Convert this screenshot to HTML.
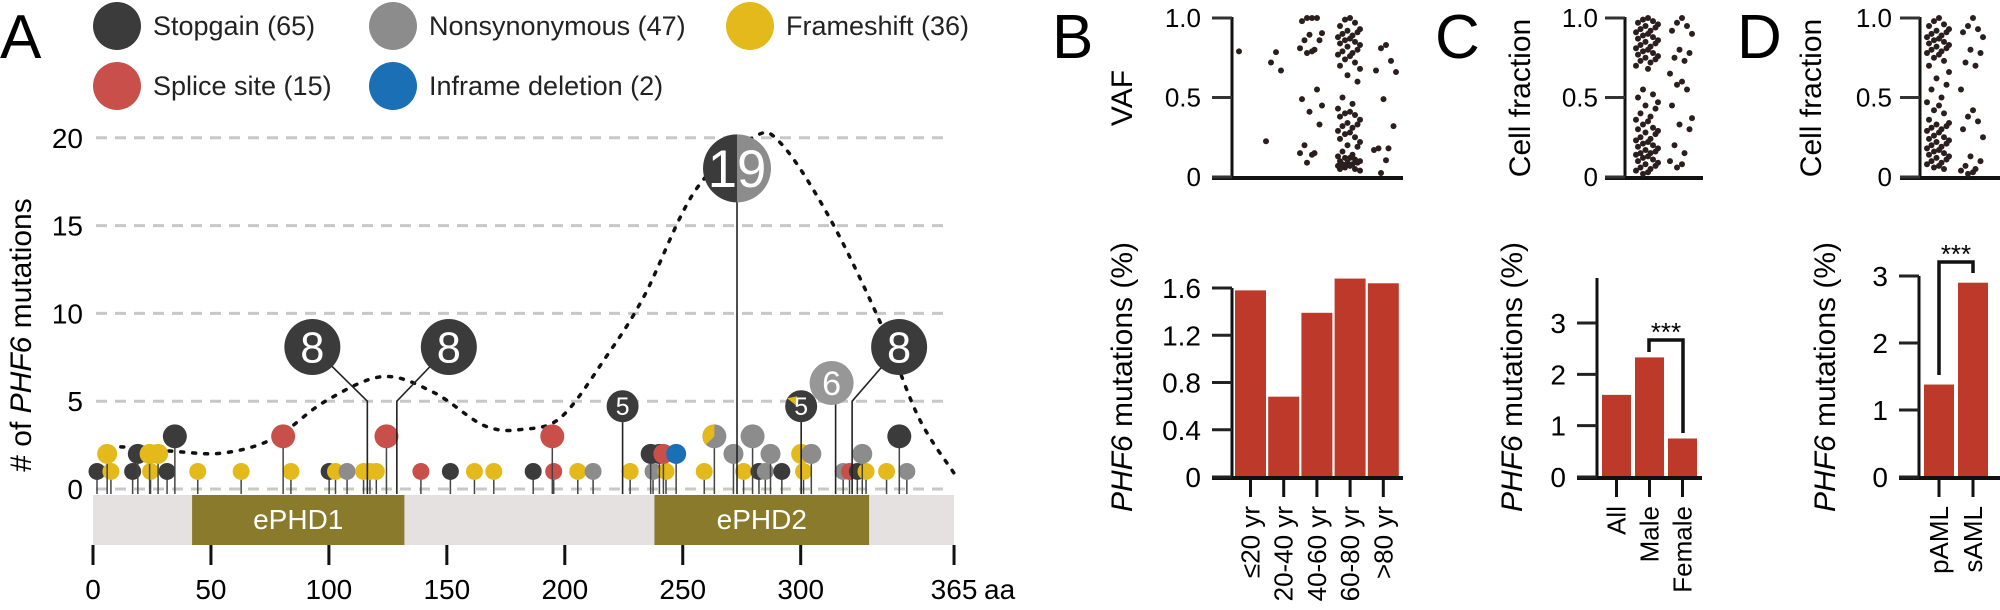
<!DOCTYPE html>
<html><head><meta charset="utf-8"><style>
html,body{margin:0;padding:0;background:#fff;}
svg{display:block;font-family:"Liberation Sans",Arial,sans-serif;}
</style></head><body>
<svg id="fig" width="2000" height="610" viewBox="0 0 2000 610" xmlns="http://www.w3.org/2000/svg"></svg>
<script>
// ---------- Panel A data ----------
const lolliAa = [1.7,7.6,16.8,24.4,31.4,44.4,62.8,83.9,100.1,102.8,107.7,114.7,117.4,120.1,139,151.5,161.7,169.9,186.6,195.3,205.5,212,227.7,237.4,242.9,259.1,275.8,282.3,285,292,301.2,318,320.7,324,327.7,336.4,345,
  6,19,24,27.6,236.4,240.1,241.8,247.2,271.5,287.2,300.2,304.5,326.1,
  34.7,80.6,124.4,194.7,263.4,279.6,341.8];
const lolliCount = [1,1,1,1,1,1,1,1,1,1,1,1,1,1,1,1,1,1,1,1,1,1,1,1,1,1,1,1,1,1,1,1,1,1,1,1,1,
  2,2,2,2,2,2,2,2,2,2,2,2,2,
  3,3,3,3,3,3,3];
const lolliType = ['d','y','d','y','d','y','y','y','d','y','g','y','y','y','r','d','y','y','d','r','y','g','y','g','y','y','y','d','g','d','y','g','r','d','y','y','g',
  'y','d','y','y','d','d','r','b','g','g','y','g','g',
  'd','r','r','r','y','g','d'];
const bigAa = [273,116.3,128.8,321.8,224.5,300.2,314.8];
const bigCount = [19,8,8,8,5,5,6];
const bigType = ['split','d','d','d','d','d','g'];
const densAa = [3,9.3,33.6,55.2,76.9,98.5,122.8,144.4,166,182.3,198.5,217.4,233.7,255.3,279.6,291.5,312,333.7,349.9,365];
const densVal = [1.9,2.4,2.15,2.05,2.9,5.0,6.4,5.5,3.6,3.4,4.1,7.5,11,17,20,19.7,15.5,9.5,4.1,0.9];
const aTicksY = [0,5,10,15,20];
const aTicksX = [0,50,100,150,200,250,300,365];
// ---------- Panel B data ----------
const ageCats = ['≤20 yr','20-40 yr','40-60 yr','60-80 yr','>80 yr'];
const ageVals = [1.58,0.68,1.39,1.68,1.64];
const vafCol1 = [0.79];
const vafCol2 = [0.785,0.72,0.67,0.225];
const vafCol3 = [1.0,1.0,1.0,0.98,0.905,0.895,0.86,0.86,0.80,0.81,0.79,0.78,0.55,0.49,0.45,0.41,0.33,0.20,0.15,0.15,0.14,0.09];
const vafCol4 = [1.0,0.99,0.97,0.95,0.93,0.92,0.91,0.90,0.89,0.88,0.87,0.86,0.85,0.84,0.83,0.82,0.80,0.79,0.78,0.77,0.76,0.74,0.72,0.70,0.68,0.64,0.60,
  0.50,0.46,0.43,0.41,0.40,0.39,0.38,0.36,0.34,0.33,0.32,0.31,0.29,0.28,0.27,0.25,0.24,0.22,0.20,0.19,0.16,0.14,0.13,0.12,0.12,0.11,0.10,0.10,0.09,0.09,0.08,0.08,0.07,0.07,0.06,0.05,0.05,0.04];
const vafCol5 = [0.83,0.81,0.73,0.67,0.66,0.49,0.32,0.18,0.18,0.17,0.105,0.025];
// ---------- Panel C data ----------
const sexCats = ['All','Male','Female'];
const sexVals = [1.6,2.33,0.75];
const cfC1 = [1.0,0.99,0.98,0.97,0.96,0.95,0.94,0.93,0.92,0.91,0.90,0.89,0.88,0.87,0.86,0.85,0.84,0.83,0.82,0.81,0.80,0.79,0.78,0.77,0.76,0.75,0.74,0.73,0.72,0.70,0.68,
  0.55,0.52,0.50,0.47,0.45,0.43,0.40,0.38,0.36,0.35,0.33,0.31,0.30,0.29,0.28,0.27,0.25,0.24,0.23,0.22,0.21,0.20,0.19,0.18,0.17,0.16,0.15,0.15,0.14,0.13,0.12,0.11,0.10,0.09,0.08,0.07,0.06,0.05,0.04,0.03,0.02];
const cfC2 = [1.0,0.97,0.95,0.92,0.90,0.80,0.78,0.75,0.73,0.65,0.60,0.58,0.55,0.45,0.37,0.33,0.30,0.20,0.15,0.10,0.08,0.06];
// ---------- Panel D data ----------
const amlCats = ['pAML','sAML'];
const amlVals = [1.38,2.9];
const cfD1 = [1.0,0.98,0.96,0.95,0.93,0.92,0.91,0.90,0.89,0.88,0.87,0.86,0.85,0.84,0.83,0.82,0.81,0.80,0.79,0.78,0.77,0.75,0.73,0.70,0.66,0.62,0.58,0.55,0.50,0.47,0.45,0.42,0.40,
  0.36,0.34,0.33,0.32,0.31,0.30,0.29,0.28,0.26,0.25,0.24,0.23,0.22,0.21,0.20,0.19,0.18,0.17,0.16,0.15,0.14,0.13,0.12,0.11,0.10,0.09,0.08,0.07,0.06,0.05];
const cfD2 = [1.0,0.95,0.93,0.91,0.88,0.80,0.78,0.72,0.70,0.55,0.42,0.38,0.35,0.30,0.25,0.13,0.10,0.07,0.05,0.04,0.03,0.02];

const NS='http://www.w3.org/2000/svg';
const svg=document.getElementById('fig');
function mk(tag,attrs,parent,text){const e=document.createElementNS(NS,tag);for(const k in attrs)e.setAttribute(k,attrs[k]);if(text!==undefined)e.textContent=text;(parent||svg).appendChild(e);return e;}
const COL={d:'#3b3b3b',g:'#8c8c8c',y:'#e4b91c',r:'#c9504a',b:'#1a6fb5'};
const BAR='#bd3a2b';

// ---------- Panel A ----------
const ax=a=>93+a*2.359;
const ay=v=>489-v*17.56;
let t=mk('text',{x:0,y:58,'font-size':62},svg,'A');

const legend=[['d','Stopgain (65)',117,26],['g','Nonsynonymous (47)',393,26],['y','Frameshift (36)',750,26],['r','Splice site (15)',117,86],['b','Inframe deletion (2)',393,86]];
legend.forEach(l=>{
  const g=mk('g',{});
  
  mk('circle',{cx:l[2],cy:l[3],r:24,fill:COL[l[0]]},g);
  mk('text',{x:l[2]+36,y:l[3]+9,'font-size':27,fill:'#222'},g,l[1]);
});
aTicksY.forEach(v=>{
  const gl=mk('line',{x1:96,x2:946,y1:ay(v),y2:ay(v),stroke:'#c8c8c8','stroke-width':3,'stroke-dasharray':'11 8'});
  
  const tl=mk('text',{x:83,y:ay(v)+10,'font-size':28,'text-anchor':'end'},svg,String(v));
  
});
t=mk('text',{transform:'translate(31,335) rotate(-90)','font-size':30,'text-anchor':'middle'});
t.innerHTML='# of <tspan font-style="italic">PHF6</tspan> mutations';

let r=mk('rect',{x:ax(0),y:495,width:ax(365)-ax(0),height:50,fill:'#e5e1e0'});

[[42,132,'ePHD1'],[238,329,'ePHD2']].forEach(d=>{
  const g=mk('g',{});
  mk('rect',{x:ax(d[0]),y:495,width:ax(d[1])-ax(d[0]),height:50,fill:'#8a7a2b'},g);
  mk('text',{x:(ax(d[0])+ax(d[1]))/2,y:529,'font-size':28,fill:'#fff','text-anchor':'middle'},g,d[2]);
});
aTicksX.forEach(v=>{
  mk('line',{x1:ax(v),x2:ax(v),y1:545,y2:565,stroke:'#111','stroke-width':3});
  const tl=mk('text',{x:ax(v),y:599,'font-size':28,'text-anchor':'middle'},svg,String(v));
  
});
t=mk('text',{x:ax(365)+30,y:599,'font-size':28},svg,'aa');

function smooth(xs,ys){let d='M'+xs[0]+' '+ys[0];for(let i=0;i<xs.length-1;i++){const x0=xs[Math.max(i-1,0)],y0=ys[Math.max(i-1,0)],x1=xs[i],y1=ys[i],x2=xs[i+1],y2=ys[i+1],x3=xs[Math.min(i+2,xs.length-1)],y3=ys[Math.min(i+2,xs.length-1)];d+=' C'+(x1+(x2-x0)/6).toFixed(1)+' '+(y1+(y2-y0)/6).toFixed(1)+' '+(x2-(x3-x1)/6).toFixed(1)+' '+(y2-(y3-y1)/6).toFixed(1)+' '+x2.toFixed(1)+' '+y2.toFixed(1);}return d;}
const dc=mk('path',{d:smooth(densAa.map(ax),densVal.map(ay)),fill:'none',stroke:'#111','stroke-width':3.5,'stroke-dasharray':'3 9','stroke-linecap':'round'});

lolliAa.forEach((a,i)=>{
  const g=mk('g',{});
  
  const x=ax(a),y=ay(lolliCount[i]);
  mk('line',{x1:x,x2:x,y1:y,y2:494,stroke:'#444','stroke-width':1.5},g);
  const rad=lolliCount[i]>=3?12:(lolliCount[i]==2?10:8.5);
  if(lolliType[i]==='y'&&lolliCount[i]===3){
    mk('circle',{cx:x,cy:y,r:rad,fill:COL.g},g);
    mk('path',{d:`M${x} ${y} L${x} ${y-rad} A${rad} ${rad} 0 0 0 ${x-rad*0.7} ${y+rad*0.7} Z`,fill:COL.y},g);
  } else mk('circle',{cx:x,cy:y,r:rad,fill:COL[lolliType[i]]},g);
});
const bigPos=[[0,0],[-55,-52],[52,-52],[47,-54],[0,0],[0,0],[-4,0]];
bigAa.forEach((a,i)=>{
  const g=mk('g',{});
  
  const x=ax(a);let cx,cy,rad;
  if(bigCount[i]===19){cx=x;cy=ay(bigCount[i])+13;rad=34;}
  else if(bigCount[i]===8){cx=x+bigPos[i][0];cy=347;rad=28;}
  else if(bigCount[i]===6){cx=x+bigPos[i][0];cy=383;rad=22;}
  else {cx=x;cy=ay(5)+5;rad=16;}
  if(bigCount[i]===8){const ky=ay(5);mk('polyline',{points:`${cx},${cy} ${x},${ky} ${x},494`,fill:'none',stroke:'#222','stroke-width':1.6},g);}
  else mk('line',{x1:x,x2:x,y1:cy,y2:494,stroke:'#222','stroke-width':1.6},g);
  if(bigType[i]==='split'){
    mk('path',{d:`M${cx} ${cy-rad} A${rad} ${rad} 0 0 0 ${cx} ${cy+rad} Z`,fill:COL.d},g);
    mk('path',{d:`M${cx} ${cy-rad} A${rad} ${rad} 0 0 1 ${cx} ${cy+rad} Z`,fill:COL.g},g);
  } else mk('circle',{cx:cx,cy:cy,r:rad,fill:bigType[i]==='g'?'#979797':COL.d},g);
  if(bigCount[i]===5&&a>290){mk('path',{d:`M${cx-14} ${cy-8} L${cx-4} ${cy-10} L${cx-4} ${cy} Z`,fill:COL.y},g);}
  mk('text',{x:cx,y:cy+rad*0.55,'font-size':rad*1.55,'text-anchor':'middle',fill:'#fff'},g,String(bigCount[i]));
});

// ---------- helpers for B/C/D ----------
function label(x,y,s,name){const e=mk('text',{x:x,y:y,'font-size':62},svg,s);}
function scatter(axisX,lineX1,lineX2,tickRight,cols,centers,title,titleX,name){
  const g=mk('g',{});
  const sy=v=>177-v*159;
  mk('line',{x1:axisX,x2:axisX,y1:sy(1)-1,y2:sy(0),stroke:'#111','stroke-width':3},g);
  mk('line',{x1:lineX1,x2:lineX2,y1:sy(0)+1,y2:sy(0)+1,stroke:'#111','stroke-width':4},g);
  [[1,'1.0'],[0.5,'0.5'],[0,'0']].forEach(tk=>{
    mk('line',{x1:axisX-20,x2:axisX,y1:sy(tk[0]),y2:sy(tk[0]),stroke:'#333','stroke-width':3},g);
    mk('text',{x:tickRight,y:sy(tk[0])+9,'font-size':26,'text-anchor':'end'},g,tk[1]);
  });
  mk('text',{transform:`translate(${titleX},98) rotate(-90)`,'font-size':30,'text-anchor':'middle'},g,title);
  cols.forEach((c,ci)=>{
    c.forEach((v,i)=>{
      const off=[0,-5,5,-10,10,-2.5,7.5,-7.5,2.5,-12][i%10];
      const p=mk('circle',{cx:centers[ci]+off,cy:sy(v),r:3,fill:'#2a1e1e'},g);
      
      
    });
  });
}
function bars(axisX,lineX1,lineX2,tickRight,ymax,yTicks,tickFmt,top,cats,vals,x0,bw,step,titleX,name){
  const g=mk('g',{});
  const by=v=>477-v*(477-top)/ymax;
  vals.forEach((v,i)=>{
    const b=mk('rect',{x:x0+i*step,y:by(v),width:bw,height:477-by(v),fill:BAR},g);
    
    
    const cx=x0+i*step+bw/2;
    mk('line',{x1:cx,x2:cx,y1:477,y2:497,stroke:'#111','stroke-width':3},g);
    mk('text',{transform:`translate(${cx+9},506) rotate(-90)`,'font-size':26,'text-anchor':'end'},g,cats[i]);
  });
  mk('line',{x1:axisX,x2:axisX,y1:top,y2:477,stroke:'#111','stroke-width':3},g);
  mk('line',{x1:lineX1,x2:lineX2,y1:478,y2:478,stroke:'#111','stroke-width':4},g);
  yTicks.forEach(v=>{
    mk('line',{x1:axisX-20,x2:axisX,y1:by(v),y2:by(v),stroke:'#222','stroke-width':3},g);
    mk('text',{x:tickRight,y:by(v)+10,'font-size':28,'text-anchor':'end'},g,tickFmt(v));
  });
  const tt=mk('text',{transform:`translate(${titleX},377) rotate(-90)`,'font-size':30,'text-anchor':'middle'},g);
  tt.innerHTML='<tspan font-style="italic">PHF6</tspan> mutations (%)';
  return by;
}
// ---------- Panel B ----------
label(1052,58,'B','panel-b-label');
scatter(1232,1212,1403,1201,[vafCol1,vafCol2,vafCol3,vafCol4,vafCol5],[1239,1276,1312,1350,1386],'VAF',1132,'vaf-scatter');
bars(1232,1212,1403,1201,1.6,[0,0.4,0.8,1.2,1.6],v=>v===0?'0':v.toFixed(1),288,ageCats,ageVals,1235,31,33.2,1132,'age-bar-chart');
// ---------- Panel C ----------
label(1435,58,'C','panel-c-label');
scatter(1625,1605,1703,1598,[cfC1,cfC2],[1648,1682],'Cell fraction',1530,'cell-fraction-scatter-c');
bars(1597,1577,1702,1566,3,[0,1,2,3],v=>String(v),323,sexCats,sexVals,1602,29,33,1522,'sex-bar-chart');
mk('line',{x1:1597,x2:1597,y1:278,y2:323,stroke:'#111','stroke-width':3});
let br=mk('polyline',{points:'1649,352 1649,340 1683,340 1683,433',fill:'none',stroke:'#111','stroke-width':3.5});

t=mk('text',{x:1666,y:341,'font-size':26,'text-anchor':'middle'},svg,'***');

// ---------- Panel D ----------
label(1737,58,'D','panel-d-label');
scatter(1920,1900,2000,1892,[cfD1,cfD2],[1939,1973],'Cell fraction',1821,'cell-fraction-scatter-d');
bars(1919,1899,2000,1888,3,[0,1,2,3],v=>String(v),276,amlCats,amlVals,1924,30,34,1835,'aml-bar-chart');
br=mk('polyline',{points:'1939,375 1939,262 1973,262 1973,273',fill:'none',stroke:'#111','stroke-width':3.5});

t=mk('text',{x:1956,y:263,'font-size':26,'text-anchor':'middle'},svg,'***');

</script>
</body></html>
